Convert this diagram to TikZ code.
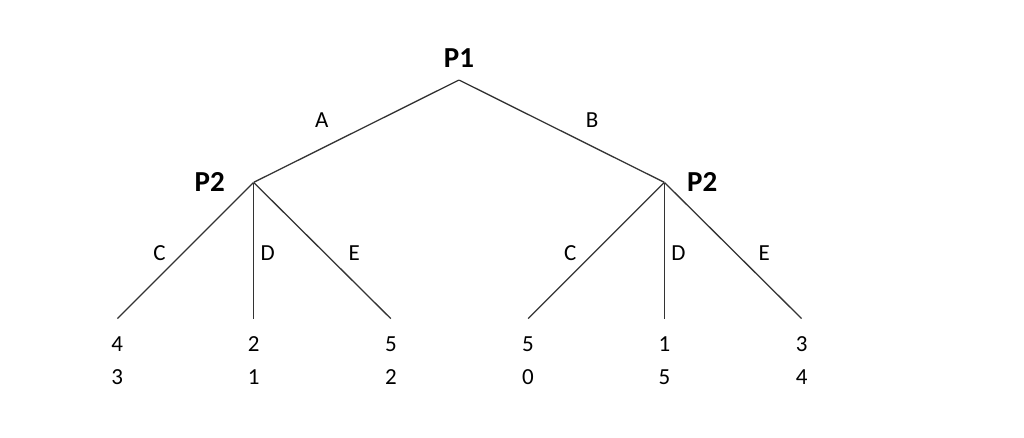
\documentclass[tikz,border=0pt]{standalone}
\usepackage{fontspec}
\setmainfont{Carlito}
\usetikzlibrary{positioning}

\begin{document}
\begin{tikzpicture}[x=1pt,y=-1pt]
		\tikzstyle{main}=[inner sep=0pt, minimum size=0pt]
		\tikzstyle{player}=[font=\fontsize{29}{33}\selectfont\bfseries]
		\tikzstyle{connect}=[line width=1.3pt, draw=black!80]
		\tikzstyle{move}=[font=\fontsize{23}{27}\selectfont, inner sep=0pt]
		\tikzstyle{payoff}=[font=\fontsize{23}{33}\selectfont, align=center, inner sep=0pt, text height=47.4pt, text depth=0pt]
		\useasboundingbox (0,0) rectangle (1024,437);
		\node[main] (r) at (459,80) [label={[player, label distance=8.3pt]90:P1}] {};
		
		\node[main] (a) [below left=102pt and 205pt of r, label={[player, label distance=25pt]180:P2}] {};
		\node[main] (b) [below right=102pt and 205pt of r, label={[player, label distance=19pt]0:P2}] {};
		
		\node[main] (a1) [below left=136pt and 136pt of a] {};
		\node[main] (a2) [below=136pt of a] {};
		\node[main] (a3) [below right=136pt and 137pt of a] {};
		\node[main] (b1) [below left=136pt and 136pt of b] {};
		\node[main] (b2) [below=136pt of b] {};
		\node[main] (b3) [below right=136pt and 137pt of b] {};
		
		\node[payoff] (pa1) [below=18pt of a1] {4\\3};
		\node[payoff] (pa2) [below=18pt of a2] {2\\1};
		\node[payoff] (pa3) [below=18pt of a3] {5\\2};
		\node[payoff] (pb1) [below=18pt of b1] {5\\0};
		\node[payoff] (pb2) [below=18pt of b2] {1\\5};
		\node[payoff] (pb3) [below=18pt of b3] {3\\4};
		
		\path 
		(r) edge [connect] node[move, pos=0.668, yshift=28pt] {A} (a)
		(r) edge [connect] node[move, pos=0.649, yshift=26pt] {B} (b)
		
		(a) edge [connect] node[move, pos=0.522, xshift=-23pt] {C} (a1)
		(a) edge [connect] node[move, pos=0.522, xshift=14pt] {D} (a2)
		(a) edge [connect] node[move, pos=0.522, xshift=29pt] {E} (a3)
		
		(b) edge [connect] node[move, pos=0.522, xshift=-23pt] {C} (b1)
		(b) edge [connect] node[move, pos=0.522, xshift=14pt] {D} (b2)
		(b) edge [connect] node[move, pos=0.522, xshift=28pt] {E} (b3)
		;
		
		\end{tikzpicture}
\end{document}
